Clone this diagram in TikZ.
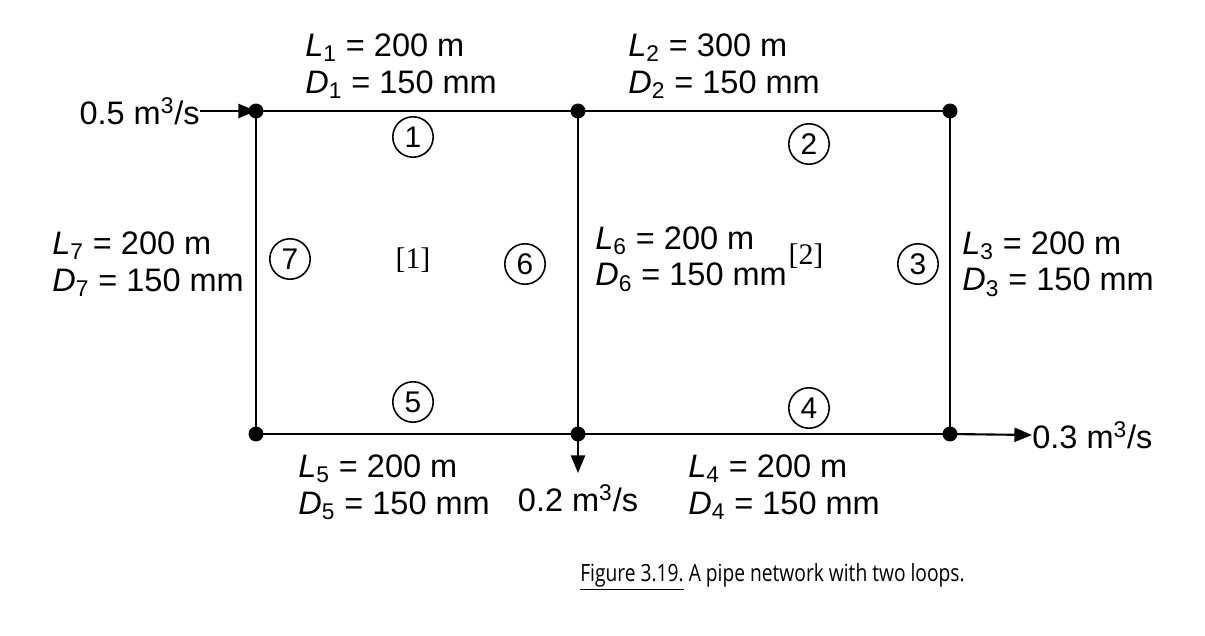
\documentclass[tikz,border=0pt]{standalone}
\usepackage{fontspec}
\setmainfont{Liberation Sans}
\newfontfamily\capfont{Open Sans}
\newfontfamily\serf{Liberation Serif}
\usetikzlibrary{arrows.meta}
\newcommand{\sbs}[1]{\textsubscript{#1}}
\begin{document}
\begin{tikzpicture}[x=0.02cm,y=-0.02cm,
  pipe/.style={line width=1.3pt},
  jn/.style={circle,fill=black,inner sep=0pt,minimum size=8.5pt},
  num/.style={circle,draw,line width=0.9pt,inner sep=0pt,minimum size=23pt,font=\fontsize{17}{17}\selectfont},
  lab/.style={font=\fontsize{18.5}{21}\selectfont,align=left,inner sep=0pt},
  loop/.style={font=\serf\fontsize{17}{20}\selectfont},
  flow/.style={line width=1.2pt,-{Triangle[length=10pt,width=8pt]}}]
\useasboundingbox (0,0) rectangle (1205,636);
\coordinate (A) at (256,111); \coordinate (B) at (578,111); \coordinate (C) at (950,111);
\coordinate (D) at (256,434); \coordinate (E) at (578,434); \coordinate (F) at (950,434);
\draw[pipe] (A)--(C)--(F)--(D)--cycle (B)--(E);
\foreach \p in {A,B,C,D,E,F} \node[jn] at (\p) {};
\node[lab,anchor=west] (l1) at (305,66) {\textit{L}\sbs{1} = 200 m\\\textit{D}\sbs{1} = 150 mm};
\node[lab,anchor=west] (l2) at (628,66) {\textit{L}\sbs{2} = 300 m\\\textit{D}\sbs{2} = 150 mm};
\node[lab,anchor=west] (l7) at (52,264) {\textit{L}\sbs{7} = 200 m\\\textit{D}\sbs{7} = 150 mm};
\node[lab,anchor=west] (l6) at (595,259) {\textit{L}\sbs{6} = 200 m\\\textit{D}\sbs{6} = 150 mm};
\node[lab,anchor=west] (l3) at (962,264) {\textit{L}\sbs{3} = 200 m\\\textit{D}\sbs{3} = 150 mm};
\node[lab,anchor=west] (l5) at (298,487) {\textit{L}\sbs{5} = 200 m\\\textit{D}\sbs{5} = 150 mm};
\node[lab,anchor=west] (l4) at (688,487) {\textit{L}\sbs{4} = 200 m\\\textit{D}\sbs{4} = 150 mm};
\node[num] (n1) at (413,137) {1};
\node[num] (n2) at (809,144) {2};
\node[num] (n3) at (918,264) {3};
\node[num] (n4) at (809,408) {4};
\node[num] (n5) at (413,402) {5};
\node[num] (n6) at (525,264) {6};
\node[num] (n7) at (290,259) {7};
\node[loop] (p1) at (413,260) {[1]};
\node[loop] (p2) at (806,256) {[2]};
\node[lab,anchor=east] (qin) at (200,111) {0.5 m\textsuperscript{3}/s};
\draw[flow] (qin.east) -- (A);
\coordinate (Eo) at (578,473);
\draw[flow] (E) -- (Eo);
\node[lab] (qe) at (578,498) {0.2 m\textsuperscript{3}/s};
\node[lab,anchor=west] (qout) at (1032,435) {0.3 m\textsuperscript{3}/s};
\draw[flow] (F) -- (qout.west);
\node[font=\capfont\fontsize{13.5}{16}\selectfont,anchor=west,inner sep=0pt,xscale=0.81] (cap) at (580,577)
  {\underline{Figure 3.19.}\ A pipe network with two loops.};
\end{tikzpicture}
\end{document}
